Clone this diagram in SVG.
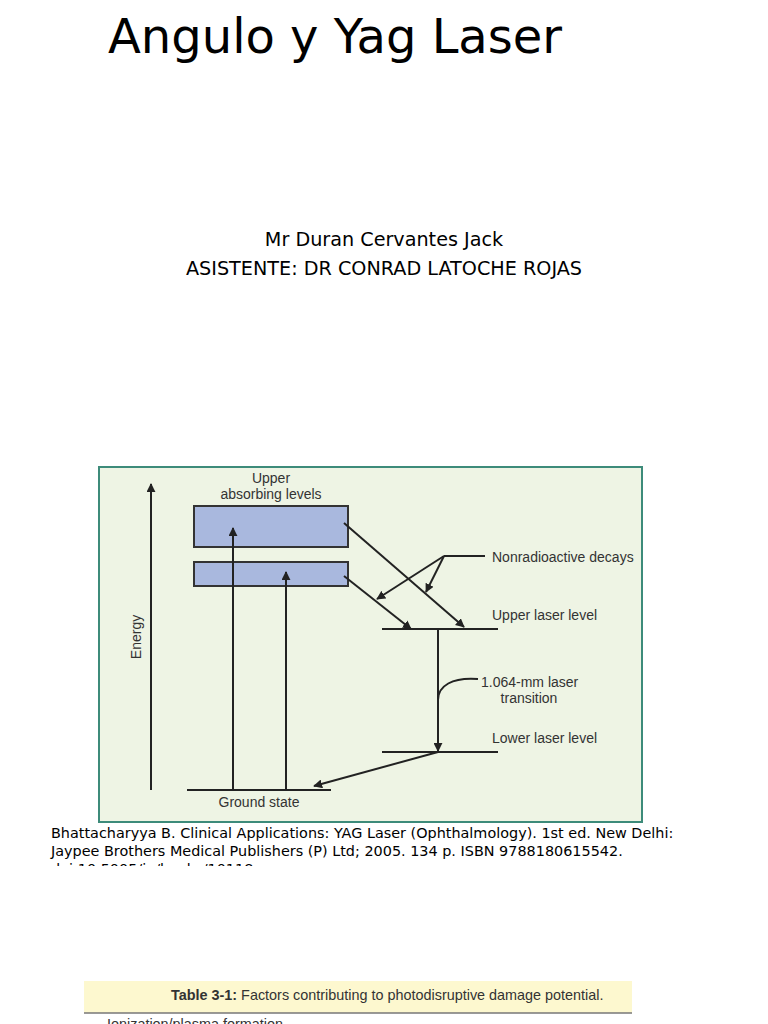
<svg xmlns="http://www.w3.org/2000/svg" width="768" height="1024" viewBox="0 0 768 1024">
<style>
.t{font-family:"DejaVu Sans",sans-serif;fill:#000}
.d{font-family:"Liberation Sans",Arial,sans-serif;fill:#333;font-size:14px}
.ln{stroke:#222;stroke-width:2;fill:none}
.box{fill:#a9b8de;stroke:#333;stroke-width:2}
</style>
<defs>
<marker id="ah" viewBox="0 0 10 10" refX="9" refY="5" markerWidth="9" markerHeight="9" markerUnits="userSpaceOnUse" orient="auto"><path d="M0,0L10,5L0,10z" fill="#222"/></marker>
<clipPath id="cit"><rect x="0" y="820" width="768" height="46"/></clipPath>
</defs>
<rect width="768" height="1024" fill="#fff"/>
<text class="t" x="108" y="53" font-size="48">Angulo y Yag Laser</text>
<text class="t" x="384" y="246" font-size="19.2" text-anchor="middle">Mr Duran Cervantes Jack</text>
<text class="t" x="384" y="275" font-size="19.2" text-anchor="middle">ASISTENTE: DR CONRAD LATOCHE ROJAS</text>
<g id="frame"><rect x="99" y="467" width="543" height="355" fill="#eef4e4" stroke="#3d8b7a" stroke-width="2"/></g>
<g id="energy"><text class="d" transform="translate(141,637) rotate(-90)" text-anchor="middle">Energy</text></g>
<g id="upper-absorbing">
<rect class="box" x="194" y="506" width="154" height="41"/>
<rect class="box" x="194" y="562" width="154" height="24"/>
<text class="d" x="271" y="483" text-anchor="middle">Upper</text>
<text class="d" x="271" y="499" text-anchor="middle">absorbing levels</text>
</g>
<g id="ground"><line class="ln" x1="187" y1="790" x2="331" y2="790"/><text class="d" x="259" y="807" text-anchor="middle">Ground state</text></g>
<g id="upper-laser"><line class="ln" x1="382" y1="629" x2="498" y2="629"/><text class="d" x="492" y="620">Upper laser level</text></g>
<g id="lower-laser"><line class="ln" x1="382" y1="752" x2="498" y2="752"/><text class="d" x="492" y="743">Lower laser level</text></g>
<g id="labels">
<text class="d" x="492" y="562">Nonradioactive decays</text>
<text class="d" x="481" y="687">1.064-mm laser</text>
<text class="d" x="529" y="703" text-anchor="middle">transition</text>
</g>
<g id="connectors">
<line class="ln" x1="151" y1="790" x2="151" y2="484" marker-end="url(#ah)"/>
<line class="ln" x1="233" y1="790" x2="233" y2="528" marker-end="url(#ah)"/>
<line class="ln" x1="286" y1="790" x2="286" y2="572" marker-end="url(#ah)"/>
<line class="ln" x1="344" y1="523" x2="464" y2="627" marker-end="url(#ah)"/>
<line class="ln" x1="344" y1="576" x2="411" y2="629" marker-end="url(#ah)"/>
<polyline class="ln" points="485,556 444,556"/>
<line class="ln" x1="444" y1="556" x2="377" y2="599" marker-end="url(#ah)"/>
<line class="ln" x1="444" y1="556" x2="426" y2="592" marker-end="url(#ah)"/>
<line class="ln" x1="438" y1="629" x2="438" y2="751" marker-end="url(#ah)"/>
<path class="ln" d="M438,700 C438,686 452,677 478,679"/>
<line class="ln" x1="438" y1="752" x2="314" y2="786" marker-end="url(#ah)"/>
</g>
<g clip-path="url(#cit)">
<text class="t" x="51" y="838" font-size="14.4">Bhattacharyya B. Clinical Applications: YAG Laser (Ophthalmology). 1st ed. New Delhi:</text>
<text class="t" x="51" y="856" font-size="14.4">Jaypee Brothers Medical Publishers (P) Ltd; 2005. 134 p. ISBN 9788180615542.</text>
<text class="t" x="51" y="874" font-size="14.4">doi:10.5005/jp/books/10118</text>
</g>
<g id="table">
<rect x="84" y="981" width="548" height="32" fill="#fdf8cf"/>
<line x1="84" y1="1013" x2="632" y2="1013" stroke="#777" stroke-width="1.5"/>
<text x="171" y="1000" font-family="Liberation Sans,Arial,sans-serif" font-size="14.4" fill="#333"><tspan font-weight="bold">Table 3-1:</tspan> Factors contributing to photodisruptive damage potential.</text>
<text x="107" y="1029" font-family="Liberation Sans,Arial,sans-serif" font-size="14.4" fill="#333">Ionization/plasma formation</text>
</g>
</svg>
